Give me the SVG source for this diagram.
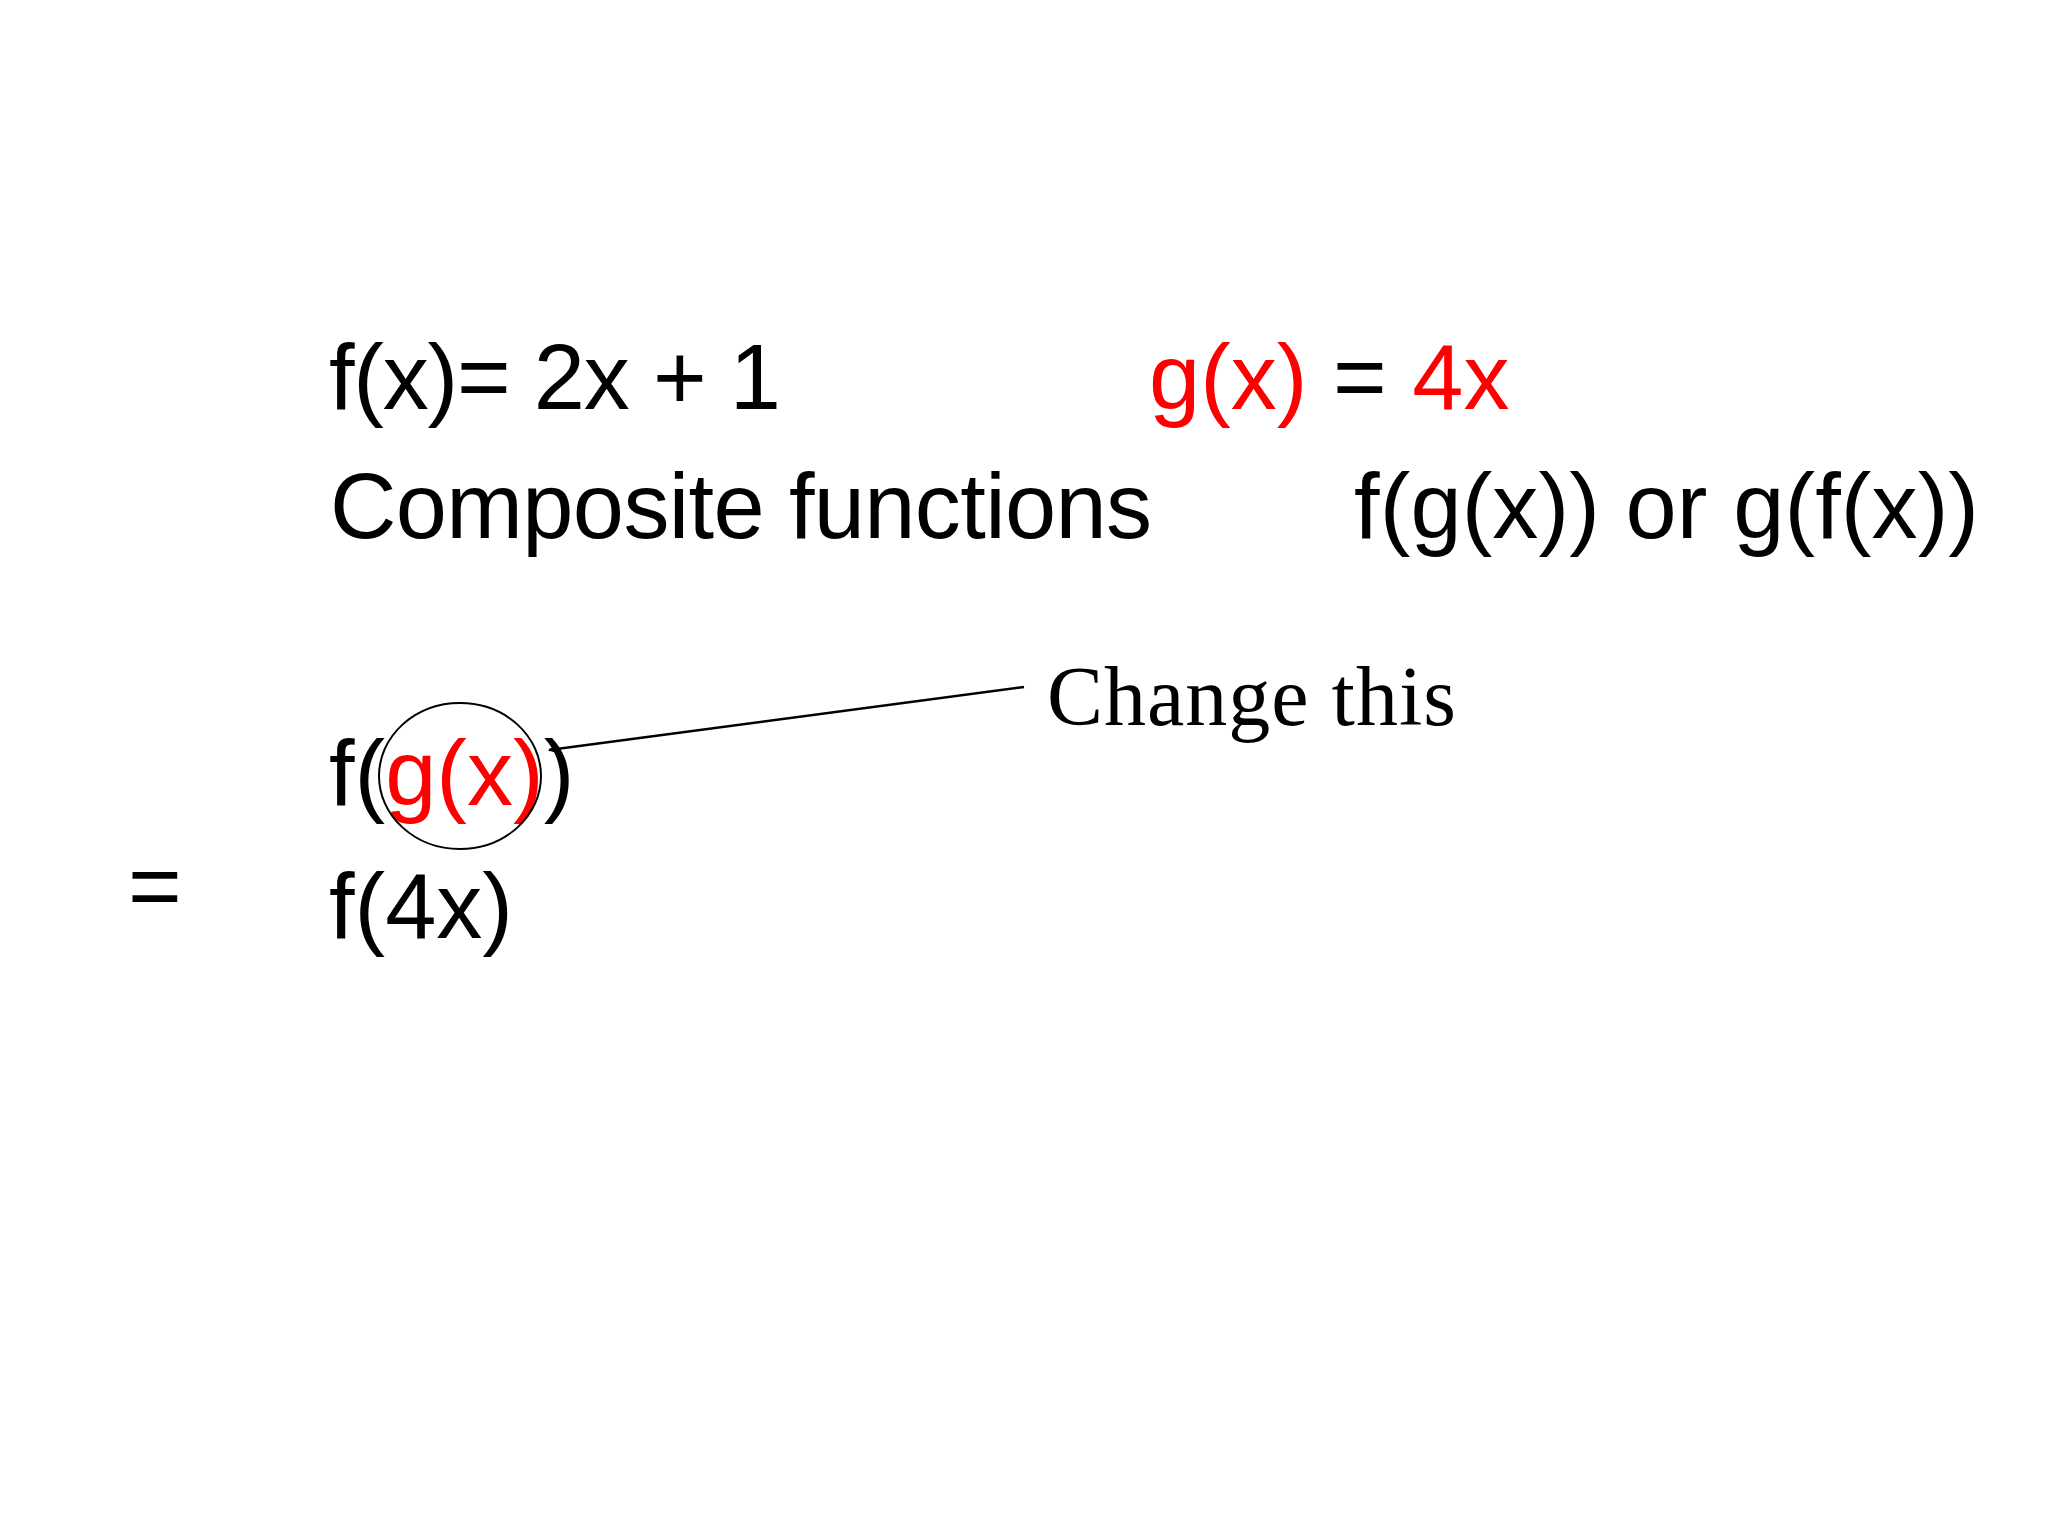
<svg xmlns="http://www.w3.org/2000/svg" width="2048" height="1536" viewBox="0 0 2048 1536">
<style>
.t{font-family:"Liberation Sans",Arial,sans-serif;font-size:92px;fill:#000}
.r{fill:#ff0000}
.s{font-family:"Liberation Serif","Times New Roman",serif;font-size:84px;fill:#000}
</style>
<defs><marker id="ah" markerWidth="10" markerHeight="10" refX="9" refY="5" orient="auto" markerUnits="userSpaceOnUse"><path d="M0,0 L10,5 L0,10 z" fill="#000"/></marker></defs>
<rect width="2048" height="1536" fill="#fff"/>
<g id="f-def"><text class="t" x="329" y="409" textLength="452">f(x)= 2x + 1</text></g>
<g id="g-def"><text class="t" x="1149" y="409"><tspan class="r">g(x)</tspan> = <tspan class="r">4x</tspan></text></g>
<g id="composite"><text class="t" x="330" y="538" textLength="822">Composite functions</text></g>
<g id="forms"><text class="t" x="1354" y="538" textLength="625">f(g(x)) or g(f(x))</text></g>
<g id="label"><text class="s" x="1047" y="725" textLength="409">Change this</text></g>
<g id="fgx"><text class="t" x="329" y="805">f(<tspan class="r">g(x)</tspan>)</text>
<ellipse cx="460" cy="776" rx="81" ry="73" fill="none" stroke="#000" stroke-width="2"/></g>
<g id="result"><text class="t" x="128" y="918">=</text><text class="t" x="329" y="938">f(4x)</text></g>
<g id="connectors"><line x1="1024" y1="687" x2="549" y2="750" stroke="#000" stroke-width="2.5" marker-end="url(#ah)"/></g>
</svg>
